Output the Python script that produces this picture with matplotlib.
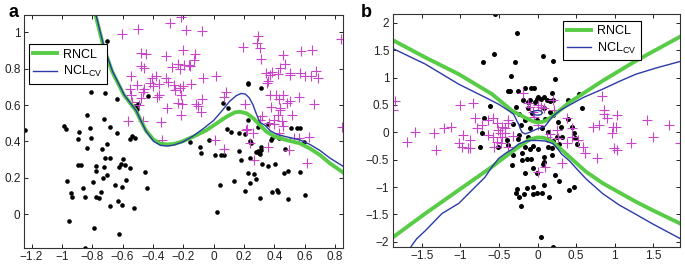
import matplotlib.pyplot as plt

plt.rcParams['font.family'] = ['Liberation Sans', 'DejaVu Sans']
plt.rcParams['mathtext.fontset'] = 'custom'
plt.rcParams['mathtext.rm'] = 'Liberation Sans'
plt.rcParams['mathtext.it'] = 'Liberation Sans'

# ---- panel a data ----
a_dot_x = [-0.987, -0.976, -0.884, -0.640, -0.541, -0.552, -0.519, -0.895, -0.811, -0.703, -0.833, -0.734,
           -0.719, -0.684, -0.598, -0.895, -0.873, -0.778, -0.723, -0.613, -0.624, -0.585, -0.552, -0.774,
           -0.705, -0.727, -0.453, -0.969, -0.793, -0.580, -0.653, -0.602, -0.859, -0.440, -0.938, -0.934,
           -0.846, -0.743, -0.774, -0.754, -0.631, -0.686, -0.607, -0.525, -0.956, -0.787, -0.626, -0.846,
           -1.245, -0.837, -0.807, -0.714, -0.703, -0.686, -0.640, -0.723, -0.519, -0.508, -0.501, -0.435,
           -0.815,
           -0.154, -0.092, -0.081, -0.031, 0.007, 0.051, 0.068, 0.116, 0.165, 0.204, 0.165, 0.178, 0.240,
           0.244, 0.240, 0.281, 0.295, 0.310, 0.299, 0.303, 0.314, 0.321, 0.360, 0.402, 0.376, 0.387, 0.429,
           0.473, 0.464, 0.490, 0.569, 0.596, 0.224, 0.266, 0.281, 0.242, 0.132, 0.040, 0.207, 0.385, 0.415,
           0.424, 0.308, 0.492, 0.604, 0.022, 0.229, 0.224, 0.312, 0.059, 0.097, 0.229, 0.086, 0.295, 0.512,
           0.547, 0.567, 0.360]
a_dot_y = [0.486, 0.466, 0.451, 0.448, 0.429, 0.415, 0.417, 0.415, 0.418, 0.387, 0.365, 0.360,
           0.310, 0.310, 0.303, 0.270, 0.270, 0.266, 0.259, 0.273, 0.259, 0.268, 0.251, 0.237,
           0.213, 0.198, 0.231, 0.180, 0.178, 0.187, 0.161, 0.149, 0.145, 0.145, 0.114, 0.094,
           0.094, 0.119, 0.094, 0.090, 0.072, 0.042, 0.051, 0.035, -0.037, -0.075, -0.108, -0.189,
           0.462, 0.545, 0.670, 0.664, 0.954, 0.479, 0.635, 0.525, 0.594, 0.580, 0.606, 0.651,
           0.472,
           0.394, 0.367, 0.334, 0.406, 0.323, 0.327, 0.325, 0.453, 0.448, 0.439, 0.347, 0.299, 0.402,
           0.389, 0.310, 0.343, 0.347, 0.350, 0.338, 0.328, 0.369, 0.275, 0.266, 0.273, 0.406, 0.420, 0.417,
           0.356, 0.226, 0.239, 0.229, 0.396, 0.226, 0.218, 0.194, 0.172, 0.180, 0.161, 0.127, 0.119, 0.130,
           0.121, 0.088, 0.081, 0.103, 0.013, 0.719, 0.714, 0.695, 0.609, 0.582, 0.517, 0.468, 0.477, 0.472,
           0.475, 0.475, 0.497]

a_cross_x = [-0.180, -0.077, -0.202, -0.125, -0.130, -0.163, -0.198, -0.154, -0.070, 0.018, -0.147, 0.084,
             0.068, -0.075, -0.114, -0.103, -0.081, 0.204, 0.193, 0.292, 0.286, 0.308, 0.312, 0.457, 0.578,
             0.646, 0.840, 0.470, 0.435, 0.501, 0.505, 0.571, 0.600, 0.644, 0.673, 0.688, 0.343, 0.382,
             0.374, 0.426, 0.358, 0.352, 0.374, 0.409, 0.457, 0.429, 0.563, 0.501, 0.484, 0.380, 0.435,
             0.440, 0.662, 0.516, 0.316, 0.308, 0.424, 0.396, 0.448, 0.457, 0.365, 0.396, 0.215, 0.220,
             0.007, 0.066, 0.259, 0.237, 0.264, 0.358, 0.429, 0.497, 0.530, 0.560, 0.626, 0.615,
             -0.602, -0.497, -0.290, -0.218, -0.481, -0.446, -0.316, -0.477, -0.459, -0.273, -0.235, -0.222,
             -0.543, -0.409, -0.420, -0.382, -0.552, -0.503, -0.466, -0.459, -0.398, -0.360, -0.360, -0.371,
             -0.312, -0.301, -0.262, -0.257, -0.224, -0.200, -0.218, -0.547, -0.536, -0.481, -0.490, -0.305,
             -0.235, -0.209, -0.563, -0.464, -0.349, -0.213, 0.848, -0.343]
a_cross_y = [1.013, 1.009, 0.903, 0.881, 0.848, 0.820, 0.820, 0.817, 0.747, 0.761, 0.716, 0.673,
             0.642, 0.633, 0.604, 0.596, 0.560, 0.606, 0.921, 0.982, 0.939, 0.912, 0.851, 0.875, 0.899,
             0.905, 0.963, 0.826, 0.806, 0.774, 0.765, 0.778, 0.760, 0.758, 0.787, 0.750, 0.778, 0.780,
             0.765, 0.771, 0.732, 0.719, 0.655, 0.655, 0.655, 0.633, 0.644, 0.622, 0.609, 0.591, 0.585,
             0.571, 0.604, 0.545, 0.541, 0.519, 0.545, 0.516, 0.512, 0.484, 0.499, 0.497, 0.462, 0.468,
             0.406, 0.356, 0.448, 0.393, 0.295, 0.371, 0.448, 0.350, 0.417, 0.417, 0.424, 0.283,
             0.991, 1.018, 1.050, 1.086, 0.888, 0.881, 0.872, 0.815, 0.806, 0.811, 0.824, 0.798,
             0.761, 0.747, 0.719, 0.760, 0.688, 0.710, 0.670, 0.688, 0.705, 0.714, 0.655, 0.646,
             0.747, 0.728, 0.710, 0.683, 0.692, 0.705, 0.655, 0.655, 0.615, 0.640, 0.600, 0.582,
             0.609, 0.604, 0.512, 0.512, 0.508, 0.545, 0.481, 0.407]

a_rncl_x = [-0.778, -0.723, -0.668, -0.591, -0.514, -0.448, -0.398, -0.354, -0.310, -0.266, -0.211, -0.134,
            -0.046, 0.020, 0.086, 0.141, 0.174, 0.218, 0.262, 0.305, 0.349, 0.404, 0.481, 0.569, 0.635,
            0.701, 0.767, 0.855]
a_rncl_y = [1.095, 0.912, 0.783, 0.655, 0.572, 0.462, 0.411, 0.389, 0.383, 0.385, 0.398, 0.426,
            0.462, 0.499, 0.536, 0.560, 0.563, 0.554, 0.527, 0.490, 0.453, 0.426, 0.407, 0.389, 0.361,
            0.325, 0.279, 0.228]
a_ncl_x = [-0.775, -0.720, -0.665, -0.588, -0.511, -0.445, -0.395, -0.350, -0.305, -0.260, -0.200, -0.134,
           -0.060, 0.0, 0.050, 0.105, 0.150, 0.182, 0.210, 0.235, 0.259, 0.280, 0.305, 0.340, 0.374, 0.420,
           0.481, 0.569, 0.635, 0.701, 0.767, 0.855]
a_ncl_y = [1.095, 0.912, 0.783, 0.655, 0.570, 0.455, 0.400, 0.378, 0.374, 0.380, 0.398, 0.430,
           0.475, 0.515, 0.563, 0.620, 0.652, 0.664, 0.660, 0.640, 0.603, 0.555, 0.505, 0.488, 0.458, 0.438,
           0.425, 0.408, 0.383, 0.350, 0.308, 0.262]

# ---- panel b data ----
b_dot_x = [-0.550, -0.265, -0.563, -0.710, -0.291, 0.076, 0.205, -0.347, 0.227, -0.386, -0.360, -0.248,
           -0.162, -0.084, -0.045, 0.183, 0.537, 0.399, 0.572, -0.615, -0.283, -0.183, -0.123, -0.097,
           -0.127, -0.032, -0.011, 0.002, 0.045, 0.088, 0.119, 0.158, 0.205, 0.084, 0.162, -0.240, -0.076,
           -0.688, -0.162, -0.011, 0.097, 0.205, 0.270, 0.399, 0.442, -0.214, -0.097, -0.313, -0.723,
           -0.240, 0.054, 0.140, 0.300, 0.477, 0.486, 0.507, 0.313, 0.248, 0.196, -0.119, -0.248, -0.391,
           -0.386, -0.745, -0.507, -0.162, -0.054, 0.140, 0.183, 0.283, -0.205, -0.097, 0.011, 0.088,
           -0.313, -0.140, -0.084, 0.088, 0.183, -0.335, -0.205, -0.063, 0.076, -0.162, -0.011, 0.227,
           0.283, -0.063, 0.088, -0.270, -0.140, -0.283, -0.240, -0.171, -0.054, -0.011, 0.063, 0.153,
           0.412, 0.477, -0.214, 0.045, 0.205]
b_dot_y = [2.158, 1.805, 1.421, 1.275, 1.275, 1.397, 1.300, 1.026, 0.971, 0.752, 0.758, 0.752,
           0.801, 0.801, 0.801, 0.721, 0.691, 0.588, 0.436, 0.484, 0.466, 0.588, 0.557, 0.588,
           0.447, 0.557, 0.606, 0.636, 0.600, 0.648, 0.588, 0.563, 0.588, 0.435, 0.374, 0.326, 0.356,
           0.265, 0.222, 0.222, 0.234, 0.314, 0.192, 0.234, 0.100, 0.131, 0.070, 0.149, -0.021,
           -0.052, 0.070, 0.009, 0.100, -0.009, -0.100, -0.222, -0.082, -0.082, -0.161, -0.082, -0.131, -0.143,
           -0.234, -0.265, -0.265, -0.265, -0.247, -0.265, -0.295, -0.216, -0.386, -0.314, -0.314, -0.447,
           -0.417, -0.496, -0.496, -0.539, -0.417, -0.594, -0.502, -0.655, -0.581, -0.746, -0.746, -0.776,
           -0.886, -0.995, -0.965, -1.038, -1.026, -1.117, -1.190, -1.135, -1.135, -1.117, -1.105, -1.178,
           -1.056, -1.008, -1.342, -1.921, -2.098]

b_cross_x = [-1.845, -1.876, -1.586, -1.694, -1.336, -1.319, -1.206, -1.120, -1.004, -0.831, -0.960, -1.017,
             -0.982, -0.874, -0.874, -0.904, -0.809, -0.788, -0.723, -0.645, -0.581, -0.529, -0.507, -0.486,
             -0.464, -0.421, -0.421, -0.378, -0.637, -0.572, -0.529, -0.473, -0.455, -0.559, -0.378, -0.378,
             -0.313, -0.183, -0.127, -0.097, -0.063, -0.041, 0.002, 0.045, 0.088, 0.205, 0.218, 0.011, 0.119,
             0.162, 0.248, 0.270, 0.378, 0.442, 0.442, 0.529, 0.585, 0.378, 0.097, 0.002, 0.313, 0.723,
             0.796, 0.840, 0.865, 0.865, 0.896, 0.982, 0.960, 1.012, 1.025, 0.995, 1.025, 1.211, 1.414,
             1.500, 1.703, 1.850, 0.766, 0.615]
b_cross_y = [0.575, 0.405, 0.009, -0.173, -0.021, -0.326, 0.082, 0.088, 0.496, 0.527, -0.052, -0.204,
             -0.265, -0.143, -0.295, -0.295, 0.253, 0.082, 0.131, 0.222, 0.253, 0.161, 0.040, -0.021,
             0.100, 0.070, -0.021, 0.161, -0.052, -0.082, -0.174, -0.204, -0.082, -0.265, -0.265, 0.222,
             -0.070, 0.709, 0.527, 0.466, 0.374, 0.283, 0.496, 0.466, 0.435, 0.588, 0.405, 0.131, -0.082,
             -0.033, 0.040, -0.113, 0.253, 0.070, -0.082, -0.143, -0.265, -0.204, -0.630, -0.721, -0.569, 0.100,
             0.131, 0.661, 0.405, 0.332, 0.253, 0.100, -0.021, 0.100, 0.314, -0.295, -0.326, -0.204, 0.222,
             -0.082, 0.125, -0.192, -0.478, -0.386]

b_rncl_up_x = [-1.876, -1.453, -1.021, -0.589, -0.330, -0.158, -0.06, 0.0, 0.06, 0.110, 0.20, 0.412,
               0.844, 1.276, 1.846]
b_rncl_up_y = [1.684, 1.367, 1.062, 0.697, 0.393, 0.265, 0.20, 0.180, 0.190, 0.215, 0.300, 0.545,
               0.940, 1.306, 1.745]
b_rncl_lo_x = [-1.876, -1.453, -1.021, -0.589, -0.460, -0.244, -0.10, 0.0, 0.08, 0.196, 0.412, 0.628,
               0.844, 1.06, 1.276, 1.50, 1.846]
b_rncl_lo_y = [-1.921, -1.483, -1.056, -0.630, -0.490, -0.265, -0.13, -0.095, -0.10, -0.174, -0.447, -0.72,
               -0.93, -1.10, -1.27, -1.43, -1.665]
b_ncl_up_x = [-1.876, -1.453, -1.021, -0.675, -0.50, -0.373, -0.310, -0.287, -0.265, -0.244, -0.222, -0.200,
              -0.160, -0.100, -0.040, 0.011, 0.060, 0.097, 0.130, 0.196, 0.30, 0.412, 0.60, 0.844, 1.06,
              1.276, 1.55, 1.846]
b_ncl_up_y = [1.531, 1.245, 0.879, 0.636, 0.510, 0.393, 0.330, 0.271, 0.200, 0.149, 0.060, 0.0,
              -0.030, 0.0, 0.040, 0.070, 0.085, 0.110, 0.170, 0.290, 0.405, 0.495, 0.64, 0.788, 0.93,
              1.062, 1.18, 1.293]
b_ncl_lo_x = [-1.643, -1.60, -1.565, -1.453, -1.237, -1.021, -0.805, -0.680, -0.589, -0.503, -0.420, -0.330,
              -0.240, -0.158, -0.08, 0.0, 0.097, 0.196, 0.26, 0.313, 0.412, 0.529, 0.628, 0.844, 1.06, 1.276,
              1.50, 1.846]
b_ncl_lo_y = [-2.098, -2.01, -1.945, -1.797, -1.483, -1.300, -0.995, -0.820, -0.630, -0.478, -0.390, -0.310,
              -0.210, -0.165, -0.150, -0.150, -0.160, -0.204, -0.30, -0.40, -0.52, -0.70, -0.85, -1.12, -1.33,
              -1.50, -1.68, -1.94]
b_loop_x = [-0.065, -0.045, 0.0, 0.045, 0.065, 0.045, 0.0, -0.045, -0.065]
b_loop_y = [0.356, 0.390, 0.400, 0.390, 0.356, 0.322, 0.312, 0.322, 0.356]

GREEN = '#58cc46'
BLUE = '#2b3aa6'
MAG = '#c844c8'

fig = plt.figure(figsize=(6.85, 2.7), dpi=100)
ax1 = fig.add_axes([0.035, 0.0815, 0.4657, 0.8625])
ax2 = fig.add_axes([0.5733, 0.0863, 0.4194, 0.8617])


def style(ax):
    ax.tick_params(direction='in', top=True, right=True, length=3, width=0.7,
                   labelsize=8.5, pad=2.5, colors='#222222')
    for s in ax.spines.values():
        s.set_linewidth(0.8)
        s.set_color('#333333')


# panel a
ax1.plot(a_dot_x, a_dot_y, 'o', color='black', ms=3.3, mec='none')
ax1.plot(a_cross_x, a_cross_y, '+', color=MAG, ms=6.5, mew=0.8)
ax1.plot(a_rncl_x, a_rncl_y, color=GREEN, lw=2.8, label='RNCL')
ax1.plot(a_ncl_x, a_ncl_y, color=BLUE, lw=1.0, label='NCL$_{\\rm CV}$')
ax1.set_xlim(-1.25, 0.853)
ax1.set_ylim(-0.187, 1.095)
ax1.set_xticks([-1.2, -1.0, -0.8, -0.6, -0.4, -0.2, 0, 0.2, 0.4, 0.6, 0.8])
ax1.set_xticklabels(['\u22121.2', '\u22121', '\u22120.8', '\u22120.6', '\u22120.4', '\u22120.2',
                     '0', '0.2', '0.4', '0.6', '0.8'])
ax1.set_yticks([0, 0.2, 0.4, 0.6, 0.8, 1])
ax1.set_yticklabels(['0', '0.2', '0.4', '0.6', '0.8', '1'])
style(ax1)
ax1.legend(loc='upper left', bbox_to_anchor=(0.016, 0.875), fontsize=9, frameon=True, fancybox=False,
           edgecolor='black', framealpha=1, handlelength=1.9, borderpad=0.35, labelspacing=0.3,
           handletextpad=0.5, borderaxespad=0).get_frame().set_linewidth(0.8)
fig.text(0.012, 0.985, 'a', fontsize=13, fontweight='bold', va='top', ha='left')

# panel b
ax2.plot(b_dot_x, b_dot_y, 'o', color='black', ms=3.6, mec='none')
ax2.plot(b_cross_x, b_cross_y, '+', color=MAG, ms=7, mew=0.8)
ax2.plot(b_rncl_up_x, b_rncl_up_y, color=GREEN, lw=2.8, label='RNCL')
ax2.plot(b_rncl_lo_x, b_rncl_lo_y, color=GREEN, lw=2.8)
ax2.plot(b_ncl_up_x, b_ncl_up_y, color=BLUE, lw=1.0, label='NCL$_{\\rm CV}$')
ax2.plot(b_ncl_lo_x, b_ncl_lo_y, color=BLUE, lw=1.0)
ax2.plot(b_loop_x, b_loop_y, color=BLUE, lw=1.0)
ax2.set_xlim(-1.876, 1.846)
ax2.set_ylim(-2.09, 2.16)
ax2.set_xticks([-1.5, -1, -0.5, 0, 0.5, 1, 1.5])
ax2.set_xticklabels(['\u22121.5', '\u22121', '\u22120.5', '0', '0.5', '1', '1.5'])
ax2.set_yticks([-2, -1.5, -1, -0.5, 0, 0.5, 1, 1.5, 2])
ax2.set_yticklabels(['\u22122', '\u22121.5', '\u22121', '\u22120.5', '0', '0.5', '1', '1.5', '2'])
style(ax2)
ax2.legend(loc='upper left', bbox_to_anchor=(0.593, 0.972), fontsize=9, frameon=True, fancybox=False,
           edgecolor='black', framealpha=1, handlelength=1.9, borderpad=0.35, labelspacing=0.3,
           handletextpad=0.5, borderaxespad=0).get_frame().set_linewidth(0.8)
fig.text(0.527, 0.985, 'b', fontsize=13, fontweight='bold', va='top', ha='left')

fig.savefig('out.png', dpi=100)
